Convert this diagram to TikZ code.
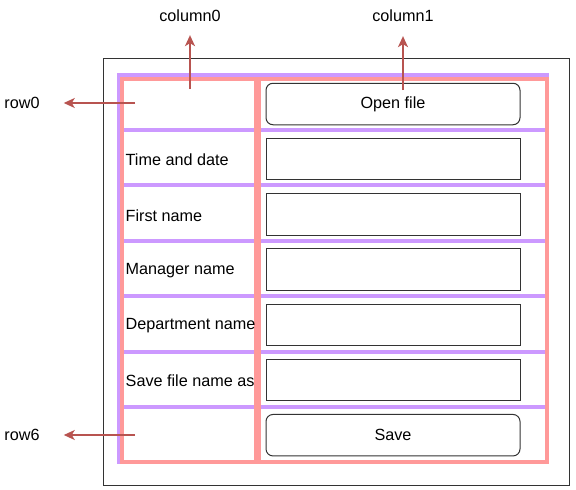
\documentclass[tikz,border=0pt]{standalone}
\usepackage{fontspec}
\setmainfont{Liberation Sans}
\usetikzlibrary{arrows.meta}
\definecolor{rowpurple}{HTML}{CC99FF}
\definecolor{colpink}{HTML}{FF9999}
\definecolor{pointred}{HTML}{B85450}
\definecolor{framegray}{HTML}{333333}
\tikzset{>={Stealth[length=11pt,width=10pt,inset=3pt]}}
\tikzset{
  rowcell/.style={draw=rowpurple, line width=4pt, minimum width=428pt, minimum height=55.4pt, inner sep=0pt},
  colcell/.style={draw=colpink, line width=4pt, inner sep=0pt, minimum height=383.5pt},
  field/.style={draw=framegray, line width=1pt, minimum width=254pt, minimum height=41.5pt, inner sep=0pt},
  button/.style={field, rounded corners=7pt},
  celltext/.style={anchor=west, inner sep=0pt},
  pointer/.style={->, draw=pointred, line width=1.5pt},
}

\begin{document}
\begin{tikzpicture}[x=1pt, y=-1pt, font=\fontsize{16.2}{19}\selectfont]
            \useasboundingbox[fill=white] (0,0) rectangle (576,490);

            % window
            \node[draw=framegray, line width=1pt, minimum width=466pt, minimum height=427pt, inner sep=0pt] (window) at (336,271.5) {};

            % rows
            \foreach \i in {0,...,6}
                \node[rowcell] (row\i) at (333, {102.2+55.4*\i}) {};

            % columns
            \node[colcell, minimum width=133.5pt] (column0) at (188.75,270.25) {};
            \node[colcell, minimum width=287.5pt] (column1) at (402.75,270.25) {};

            % buttons
            \node[button] (open) at (393,104) {Open file};
            \node[button] (save) at (393,435.2) {Save};

            % fields
            \foreach \i/\txt in {1/Time and date, 2/First name, 3/Manager name, 4/Department name, 5/Save file name as} {
                \node[field] (field\i) at (393, {104+55.2*\i}) {};
                \node[celltext] (label\i) at (125.5, {105+55.2*\i}) {\txt};
            }

            % pointers
            \node[inner sep=0pt] (col0lbl) at (190,16) {column0};
            \node[inner sep=0pt] (col1lbl) at (403,16) {column1};
            \node[inner sep=0pt] (row0lbl) at (22,103) {row0};
            \node[inner sep=0pt] (row6lbl) at (22,435) {row6};

            \coordinate (c0) at (190,89);
            \coordinate (c1) at (403,90);
            \coordinate (r0) at (135,103);
            \coordinate (r6) at (135,435);

            \draw[pointer, shorten >=13pt] (c0) -- (col0lbl.south);
            \draw[pointer, shorten >=14pt] (c1) -- (col1lbl.south);
            \draw[pointer, shorten >=24pt] (r0) -- (row0lbl.east |- r0);
            \draw[pointer, shorten >=24pt] (r6) -- (row6lbl.east |- r6);
\end{tikzpicture}
\end{document}
